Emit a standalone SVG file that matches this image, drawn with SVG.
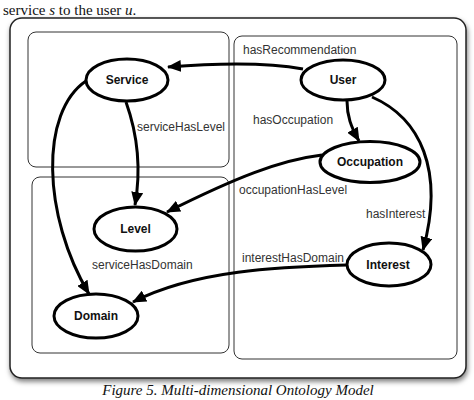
<svg xmlns="http://www.w3.org/2000/svg" width="474" height="400" viewBox="0 0 474 400">
<defs>
<style>
.box{fill:none;stroke:#333;stroke-width:1}
.node ellipse{fill:#fff;stroke:#000;stroke-width:3}
.node text{font-family:"Liberation Sans",Arial,sans-serif;font-size:12px;font-weight:bold;text-anchor:middle;fill:#111}
.edge{fill:none;stroke:#000;stroke-width:3;marker-end:url(#arr)}
.lbl{font-family:"Liberation Sans",Arial,sans-serif;font-size:12px;fill:#333}
.cap{font-family:"Liberation Serif","Times New Roman",serif;font-size:15px;fill:#111}
</style>
<marker id="arr" markerUnits="userSpaceOnUse" markerWidth="14" markerHeight="12" refX="13" refY="6" orient="auto">
<path d="M0,0 L14,6 L0,12 Z" fill="#000"/>
</marker>
<filter id="sh" x="-5%" y="-5%" width="110%" height="112%">
<feDropShadow dx="1" dy="3" stdDeviation="2.5" flood-color="#000" flood-opacity="0.5"/>
</filter>
</defs>
<text class="cap" x="3" y="14.5">service <tspan font-style="italic">s</tspan> to the user <tspan font-style="italic">u</tspan>.</text>
<rect x="10" y="18" width="456" height="360" rx="12" fill="#fff" stroke="#222" stroke-width="1.5" filter="url(#sh)"/>
<rect class="box" x="28" y="32" width="201" height="135" rx="8"/>
<rect class="box" x="32" y="177" width="197" height="176" rx="8"/>
<rect class="box" x="234" y="36" width="223" height="323" rx="8"/>
<g id="connectors">
<path class="edge" d="M303,69 C270,63 220,63 168,67"/>
<path class="edge" d="M126,102 C136,130 142,165 135,205"/>
<path class="edge" d="M86,81 C40,112 42,215 89,294"/>
<path class="edge" d="M347,101 C347,116 351,127 359,141"/>
<path class="edge" d="M372,97 C420,118 445,170 423,250"/>
<path class="edge" d="M322,155 C280,160 235,178 167,212"/>
<path class="edge" d="M347,265 C280,267 195,270 133,302"/>
<text class="lbl" x="243" y="54">hasRecommendation</text>
<text class="lbl" x="253" y="124">hasOccupation</text>
<text class="lbl" x="137" y="131">serviceHasLevel</text>
<text class="lbl" x="239" y="194">occupationHasLevel</text>
<text class="lbl" x="366" y="218">hasInterest</text>
<text class="lbl" x="242" y="262">interestHasDomain</text>
<text class="lbl" x="92" y="269">serviceHasDomain</text>
</g>
<g id="service" class="node"><ellipse cx="127" cy="80" rx="41" ry="21"/><text x="127" y="84">Service</text></g>
<g id="user" class="node"><ellipse cx="343" cy="80" rx="42" ry="20"/><text x="343" y="84">User</text></g>
<g id="occupation" class="node"><ellipse cx="370" cy="162" rx="50" ry="20.5"/><text x="370" y="166">Occupation</text></g>
<g id="level" class="node"><ellipse cx="135.5" cy="229" rx="41.5" ry="22"/><text x="135.5" y="233">Level</text></g>
<g id="domain" class="node"><ellipse cx="96" cy="316" rx="42" ry="22"/><text x="96" y="320">Domain</text></g>
<g id="interest" class="node"><ellipse cx="389" cy="264.5" rx="42" ry="21.5"/><text x="388" y="269">Interest</text></g>
<text class="cap" x="238" y="395" text-anchor="middle" font-style="italic">Figure 5. Multi-dimensional Ontology Model</text>
</svg>
